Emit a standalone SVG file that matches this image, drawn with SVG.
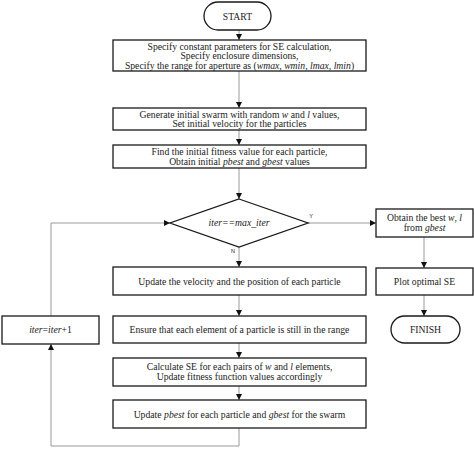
<svg xmlns="http://www.w3.org/2000/svg" width="474" height="450" viewBox="0 0 474 450">
<defs>
<style>
.n{fill:#fff;stroke:#1a1a1a;stroke-width:1.3}
.t{font-family:"Liberation Serif","Times New Roman",serif;font-size:9.7px;fill:#222;text-anchor:middle}
.i{font-style:italic}
.c{fill:none;stroke:#9a9a9a;stroke-width:1}
.s{font-family:"Liberation Sans",Arial,sans-serif;font-size:5.5px;fill:#222;text-anchor:middle}
</style>
<marker id="a" markerUnits="userSpaceOnUse" markerWidth="6" markerHeight="6" refX="6" refY="3" orient="auto">
<path d="M0,0 L6,3 L0,6 z" fill="#111"/>
</marker>
</defs>
<rect width="474" height="450" fill="#fff"/>
<g id="connectors">
<path class="c" d="M239,30 V40" marker-end="url(#a)"/>
<path class="c" d="M239,71 V108" marker-end="url(#a)"/>
<path class="c" d="M239,130 V145" marker-end="url(#a)"/>
<path class="c" d="M239,168 V199" marker-end="url(#a)"/>
<path class="c" d="M308,223 H376" marker-end="url(#a)"/>
<path class="c" d="M239,247 V267" marker-end="url(#a)"/>
<path class="c" d="M239,295 V316" marker-end="url(#a)"/>
<path class="c" d="M239,343 V358" marker-end="url(#a)"/>
<path class="c" d="M239,386 V400" marker-end="url(#a)"/>
<path class="c" d="M239,428 V446 H51 V344" marker-end="url(#a)"/>
<path class="c" d="M51,316 V223 H170" marker-end="url(#a)"/>
<path class="c" d="M424,237 V268" marker-end="url(#a)"/>
<path class="c" d="M424,295 V316" marker-end="url(#a)"/>
<text class="s" x="311" y="218">Y</text>
<text class="s" x="233" y="253">N</text>
</g>
<g id="start">
<rect class="n" x="204" y="2" width="67" height="28" rx="14"/>
<text class="t" x="237.5" y="19.5">START</text>
</g>
<g id="specify">
<rect class="n" x="113" y="40" width="253" height="31"/>
<text class="t" x="239.5" y="49.5">Specify constant parameters for SE calculation,</text>
<text class="t" x="239.5" y="59">Specify enclosure dimensions,</text>
<text class="t" x="239.5" y="68.5">Specify the range for aperture as (<tspan class="i">wmax, wmin, lmax, lmin</tspan>)</text>
</g>
<g id="generate">
<rect class="n" x="113" y="108" width="253" height="22"/>
<text class="t" x="239.5" y="117.5">Generate initial swarm with random <tspan class="i">w</tspan> and <tspan class="i">l</tspan> values,</text>
<text class="t" x="239.5" y="127">Set initial velocity for the particles</text>
</g>
<g id="fitness">
<rect class="n" x="113" y="145" width="253" height="23"/>
<text class="t" x="239.5" y="155">Find the initial fitness value for each particle,</text>
<text class="t" x="239.5" y="164.5">Obtain initial <tspan class="i">pbest</tspan> and <tspan class="i">gbest</tspan> values</text>
</g>
<g id="decision">
<path class="n" d="M239,199 L308,223 L239,247 L170,223 z"/>
<text class="t i" x="239" y="226">iter==max_iter</text>
</g>
<g id="update-velocity">
<rect class="n" x="113" y="267" width="253" height="28"/>
<text class="t" x="239.5" y="284.5">Update the velocity and the position of each particle</text>
</g>
<g id="ensure">
<rect class="n" x="113" y="316" width="253" height="27"/>
<text class="t" x="239.5" y="333">Ensure that each element of a particle is still in the range</text>
</g>
<g id="calculate">
<rect class="n" x="113" y="358" width="253" height="28"/>
<text class="t" x="239.5" y="370">Calculate SE for each pairs of <tspan class="i">w</tspan> and <tspan class="i">l</tspan> elements,</text>
<text class="t" x="239.5" y="379.5">Update fitness function values accordingly</text>
</g>
<g id="update-best">
<rect class="n" x="113" y="400" width="253" height="28"/>
<text class="t" x="239.5" y="417.5">Update <tspan class="i">pbest</tspan> for each particle and <tspan class="i">gbest</tspan> for the swarm</text>
</g>
<g id="iter">
<rect class="n" x="2" y="316" width="97" height="28"/>
<text class="t" x="50.5" y="333"><tspan class="i">iter</tspan>=<tspan class="i">iter</tspan>+1</text>
</g>
<g id="obtain">
<rect class="n" x="376" y="209" width="97" height="28"/>
<text class="t" x="424.5" y="221">Obtain the best <tspan class="i">w</tspan>, <tspan class="i">l</tspan></text>
<text class="t" x="424.5" y="230.5">from <tspan class="i">gbest</tspan></text>
</g>
<g id="plot">
<rect class="n" x="376" y="268" width="97" height="27"/>
<text class="t" x="424.5" y="285">Plot optimal SE</text>
</g>
<g id="finish">
<rect class="n" x="391" y="316" width="69" height="27" rx="13.5"/>
<text class="t" x="425.5" y="333">FINISH</text>
</g>
</svg>
